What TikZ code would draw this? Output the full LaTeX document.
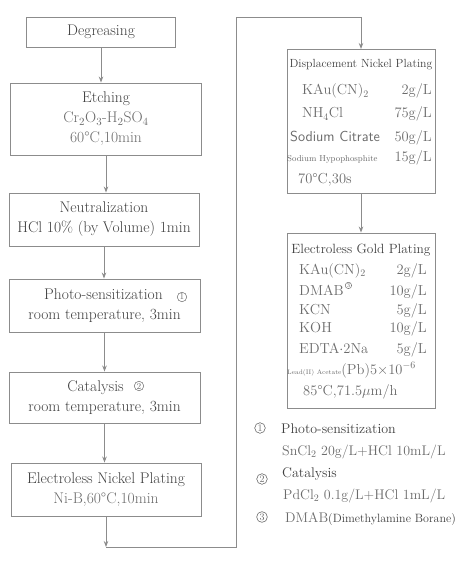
\documentclass[tikz,border=0pt]{standalone}
\usepackage{fontspec}
\usetikzlibrary{arrows.meta}
\def\gL{g/L}
\def\degC{°C}
\colorlet{box edge}{black!45}
\colorlet{head ink}{black!75}
\colorlet{soft ink}{black!58}
\tikzset{
  stepbox/.style={draw=box edge, line width=0.9pt, align=center, text=head ink,
    font=\fontsize{15.5}{20}\selectfont, inner sep=2pt},
  chembox/.style={draw=box edge, line width=0.9pt, inner sep=0pt},
  flow/.style={draw=box edge, line width=0.9pt, -{Stealth[length=6pt,width=4.5pt]}},
  row/.style={text=soft ink, font=\fontsize{14.5}{17}\selectfont, inner sep=0pt},
  keyline/.style={row, anchor=base west, font=\fontsize{14}{17}\selectfont},
  keymark/.style={circle, draw=soft ink, text=soft ink, line width=0.6pt, inner sep=0.8pt,
    font=\fontsize{10}{11}\selectfont},
  tinymark/.style={keymark, line width=0.5pt, inner sep=0.7pt, font=\fontsize{9}{10}\selectfont}
}

\begin{document}
\begin{tikzpicture}[x=1pt, y=-1pt]
  \useasboundingbox (0,0) rectangle (474,564);
  % left column of steps
  \node[stepbox, minimum width=149pt, minimum height=30pt] (degr) at (101,32) {Degreasing};
  \node[stepbox, minimum width=191pt, minimum height=72pt] (etch) at (106,119)
    {Etching\\\textcolor{soft ink}{Cr$_2$O$_3$-H$_2$SO$_4$}\\\textcolor{soft ink}{60\degC,10min}};
  \node[stepbox, minimum width=190pt, minimum height=53pt] (neut) at (104,219.5)
    {Neutralization\\HCl 10\% (by Volume) 1min};
  \node[stepbox, align=right, minimum width=191pt, minimum height=53pt] (photo) at (104.5,305.5)
    {Photo-sensitization\rule{18pt}{0pt}\\room temperature, 3min};
  \node[tinymark] (mark1) at (182,297) {1};
  \node[stepbox, minimum width=191pt, minimum height=51pt] (cata) at (104.5,397.5)
    {Catalysis\rule{18pt}{0pt}\\room temperature, 3min};
  \node[tinymark] (mark2) at (139,386) {2};
  \node[stepbox, minimum width=190pt, minimum height=53pt] (eni) at (106,489.5)
    {Electroless Nickel Plating\\\textcolor{soft ink}{Ni-B,60\degC,10min}};
  \foreach \a/\b in {degr/etch, etch/neut, neut/photo, photo/cata, cata/eni}
    \draw[flow] (\a) -- (\a |- \b.north);
  % route over to the right column
  \coordinate (turn) at (106,547);
  \coordinate (rise) at (236,17);
  \draw[flow] (eni) -- (turn);
  \draw[flow] (turn) -| (rise) -| (361,49);
  % displacement bath
  \node[chembox, minimum width=148pt, minimum height=144pt] (disp) at (361,121) {};
  \node[row, text=head ink, anchor=base, font=\fontsize{11.8}{14}\selectfont] (disp-head)
    at (361,68) {Displacement Nickel Plating};
  \foreach \x/\y/\l/\r [count=\i] in {302/95/KAu(CN)$_2$/2\gL, 302/118/NH$_4$Cl/75\gL,
      290/142/{\sffamily Sodium Citrate}/50\gL,
      287/161/{\fontsize{8.6}{10}\selectfont Sodium Hypophosphite}/15\gL} {
    \node[row, anchor=base west] (disp-l\i) at (\x,\y) {\l};
    \node[row, anchor=base east] (disp-r\i) at (432,\y) {\r};
  }
  \node[row, anchor=base west] (disp-temp) at (298,183) {70\degC,30s};
  % gold bath
  \node[chembox, minimum width=148pt, minimum height=175pt] (gold) at (361,320.5) {};
  \draw[flow] (disp) -- (gold);
  \node[row, text=head ink, anchor=base, font=\fontsize{13.4}{16}\selectfont] (gold-head)
    at (361,253) {Electroless Gold Plating};
  \foreach \y/\l/\r [count=\i] in {274/KAu(CN)$_2$/2\gL, 295/DMAB/10\gL, 314/KCN/5\gL,
      332/KOH/10\gL, 353/EDTA$\cdot$2Na/5\gL} {
    \node[row, anchor=base west] (gold-l\i) at (299,\y) {\l};
    \node[row, anchor=base east] (gold-r\i) at (427,\y) {\r};
  }
  \node[tinymark, inner sep=0.3pt, font=\fontsize{6}{7}\selectfont] (mark3)
    at ([xshift=4.5pt, yshift=-1pt]gold-l2.north east) {3};
  \node[row, anchor=base west] (gold-lead) at (287,374)
    {{\fontsize{6.5}{8}\selectfont Lead(II) Acetate}(Pb)5$\times$10$^{-6}$};
  \node[row, anchor=base west] (gold-temp) at (303,395) {85\degC,71.5$\mu$m/h};
  % notes
  \node[keymark] (key1) at (260,428) {1};
  \node[keyline, text=head ink] (note1) at (281,433) {Photo-sensitization};
  \node[keyline] (note1b) at (282,455) {SnCl$_2$ 20g/L+HCl 10mL/L};
  \node[keymark] (key2) at (262,479) {2};
  \node[keyline, text=head ink] (note2) at (282,477) {Catalysis};
  \node[keyline] (note2b) at (283,499) {PdCl$_2$ 0.1g/L+HCl 1mL/L};
  \node[keymark] (key3) at (262,517) {3};
  \node[keyline] (note3) at (285,522)
    {DMAB{\color{head ink}\fontsize{12}{14}\selectfont(Dimethylamine Borane)}};
\end{tikzpicture}
\end{document}
